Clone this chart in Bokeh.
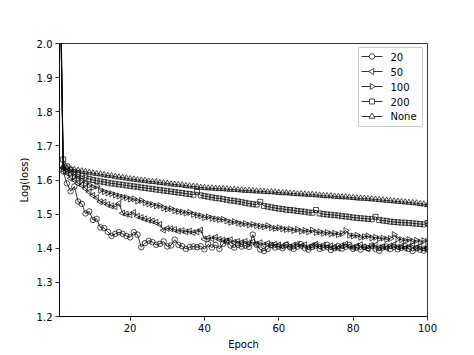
import math
from bokeh.plotting import figure
from bokeh.models import Range1d, FixedTicker, PrintfTickFormatter
from bokeh.core.properties import value
from bokeh.embed import file_html
from bokeh.resources import INLINE

epochs = list(range(1, 101))

loss_20 = [2.31, 1.625, 1.590, 1.567, 1.581, 1.537, 1.530, 1.502, 1.508, 1.483,
           1.486, 1.461, 1.459, 1.448, 1.436, 1.442, 1.447, 1.442, 1.436, 1.432,
           1.447, 1.440, 1.403, 1.415, 1.422, 1.418, 1.410, 1.413, 1.420, 1.405,
           1.408, 1.425, 1.410, 1.406, 1.398, 1.403, 1.405, 1.403, 1.406, 1.397,
           1.412, 1.402, 1.410, 1.398, 1.413, 1.420, 1.408, 1.402, 1.410, 1.405,
           1.408, 1.404, 1.440, 1.410, 1.396, 1.392, 1.398, 1.410, 1.402, 1.405,
           1.400, 1.410, 1.403, 1.398, 1.405, 1.412, 1.400, 1.396, 1.404, 1.408,
           1.398, 1.402, 1.410, 1.395, 1.400, 1.406, 1.399, 1.404, 1.410, 1.398,
           1.402, 1.396, 1.404, 1.400, 1.408, 1.398, 1.393, 1.402, 1.405, 1.398,
           1.404, 1.397, 1.401, 1.406, 1.398, 1.392, 1.400, 1.396, 1.393, 1.398]

loss_50 = [2.28, 1.635, 1.620, 1.605, 1.600, 1.590, 1.585, 1.575, 1.565, 1.555,
           1.548, 1.536, 1.535, 1.528, 1.524, 1.522, 1.531, 1.503, 1.500, 1.498,
           1.505, 1.494, 1.490, 1.486, 1.482, 1.480, 1.476, 1.470, 1.453, 1.458,
           1.457, 1.455, 1.450, 1.452, 1.448, 1.450, 1.446, 1.448, 1.453, 1.427,
           1.430, 1.428, 1.432, 1.426, 1.424, 1.422, 1.425, 1.418, 1.420, 1.417,
           1.420, 1.415, 1.418, 1.412, 1.416, 1.410, 1.414, 1.408, 1.412, 1.410,
           1.406, 1.411, 1.404, 1.409, 1.412, 1.406, 1.410, 1.403, 1.408, 1.412,
           1.405, 1.409, 1.402, 1.407, 1.404, 1.400, 1.408, 1.412, 1.405, 1.402,
           1.407, 1.410, 1.403, 1.398, 1.406, 1.409, 1.402, 1.405, 1.400, 1.407,
           1.410, 1.403, 1.406, 1.400, 1.404, 1.408, 1.401, 1.405, 1.399, 1.403]

loss_100 = [2.35, 1.632, 1.625, 1.620, 1.610, 1.605, 1.598, 1.590, 1.585, 1.578,
            1.582, 1.570, 1.566, 1.562, 1.560, 1.556, 1.553, 1.550, 1.548, 1.544,
            1.545, 1.538, 1.540, 1.533, 1.530, 1.528, 1.524, 1.525, 1.518, 1.515,
            1.516, 1.510, 1.508, 1.506, 1.503, 1.505, 1.499, 1.497, 1.495, 1.490,
            1.492, 1.488, 1.486, 1.484, 1.485, 1.480, 1.476, 1.478, 1.474, 1.471,
            1.472, 1.468, 1.470, 1.466, 1.465, 1.463, 1.466, 1.460, 1.458, 1.460,
            1.457, 1.455, 1.456, 1.452, 1.455, 1.450, 1.452, 1.448, 1.453, 1.446,
            1.448, 1.444, 1.446, 1.442, 1.444, 1.440, 1.443, 1.452, 1.438, 1.436,
            1.438, 1.432, 1.434, 1.436, 1.430, 1.432, 1.428, 1.430, 1.426, 1.428,
            1.440, 1.427, 1.425, 1.422, 1.426, 1.420, 1.423, 1.418, 1.422, 1.420]

loss_200 = [2.27, 1.660, 1.640, 1.630, 1.622, 1.616, 1.611, 1.607, 1.603, 1.600,
            1.598, 1.596, 1.594, 1.592, 1.590, 1.589, 1.587, 1.586, 1.584, 1.583,
            1.581, 1.580, 1.578, 1.577, 1.575, 1.574, 1.572, 1.571, 1.569, 1.568,
            1.566, 1.565, 1.563, 1.562, 1.560, 1.559, 1.557, 1.565, 1.555, 1.553,
            1.551, 1.549, 1.547, 1.546, 1.544, 1.542, 1.540, 1.539, 1.537, 1.535,
            1.533, 1.531, 1.529, 1.528, 1.536, 1.524, 1.522, 1.520, 1.518, 1.516,
            1.515, 1.513, 1.512, 1.511, 1.509, 1.508, 1.507, 1.505, 1.504, 1.512,
            1.502, 1.500, 1.499, 1.498, 1.497, 1.496, 1.494, 1.493, 1.492, 1.490,
            1.489, 1.488, 1.487, 1.486, 1.485, 1.492, 1.483, 1.481, 1.480, 1.478,
            1.477, 1.476, 1.475, 1.475, 1.474, 1.473, 1.472, 1.471, 1.470, 1.474]

loss_none = [2.40, 1.640, 1.635, 1.632, 1.630, 1.628, 1.626, 1.624, 1.622, 1.620,
             1.618, 1.617, 1.615, 1.613, 1.612, 1.610, 1.608, 1.607, 1.605, 1.603,
             1.602, 1.600, 1.599, 1.598, 1.596, 1.595, 1.594, 1.592, 1.591, 1.590,
             1.588, 1.587, 1.586, 1.585, 1.583, 1.582, 1.581, 1.580, 1.578, 1.577,
             1.576, 1.576, 1.575, 1.574, 1.574, 1.573, 1.572, 1.572, 1.571, 1.570,
             1.569, 1.569, 1.568, 1.567, 1.567, 1.566, 1.565, 1.565, 1.564, 1.563,
             1.562, 1.562, 1.561, 1.560, 1.559, 1.559, 1.558, 1.557, 1.557, 1.556,
             1.555, 1.554, 1.553, 1.553, 1.552, 1.551, 1.550, 1.550, 1.549, 1.548,
             1.547, 1.546, 1.546, 1.545, 1.544, 1.543, 1.542, 1.541, 1.540, 1.539,
             1.538, 1.537, 1.536, 1.535, 1.534, 1.533, 1.532, 1.530, 1.529, 1.527]

series_labels = ["20", "50", "100", "200", "None"]
series_values = [loss_20, loss_50, loss_100, loss_200, loss_none]
x_ticks = [20, 40, 60, 80, 100]
y_ticks = [1.2, 1.3, 1.4, 1.5, 1.6, 1.7, 1.8, 1.9, 2.0]

marker_styles = [("circle", 0.0, 5.5),
                 ("triangle", math.pi / 2, 6.0),
                 ("triangle", -math.pi / 2, 6.0),
                 ("square", 0.0, 5.0),
                 ("triangle", 0.0, 6.0)]

FONT = "DejaVu Sans"
W, H = 474, 355
BL, BR, BT, BB = 59, 47, 43, 39
FRAME_W, FRAME_H = W - BL - BR, H - BT - BB
X0, X1, Y0, Y1 = 1, 100, 1.2, 2.0


def sx_to_data(sx):
    return X0 + (sx - BL) / FRAME_W * (X1 - X0)


def sy_to_data(sy):
    return Y1 - (sy - BT) / FRAME_H * (Y1 - Y0)


p = figure(width=W, height=H, output_backend="svg", toolbar_location=None,
           x_range=Range1d(X0, X1), y_range=Range1d(Y0, Y1),
           min_border_left=BL, min_border_right=BR, min_border_top=BT,
           min_border_bottom=BB)

p.background_fill_color = "white"
p.border_fill_color = "white"
p.outline_line_color = "black"
p.outline_line_width = 0.8
p.grid.grid_line_color = None

p.xaxis.ticker = FixedTicker(ticks=x_ticks)
p.yaxis.ticker = FixedTicker(ticks=y_ticks)
p.xaxis.formatter = PrintfTickFormatter(format="%d")
p.yaxis.formatter = PrintfTickFormatter(format="%.1f")
p.xaxis.axis_label = "Epoch"
p.yaxis.axis_label = "Log(loss)"
for ax in [p.xaxis[0], p.yaxis[0]]:
    ax.axis_line_color = "black"
    ax.axis_line_width = 0.8
    ax.major_tick_line_color = "black"
    ax.major_tick_line_width = 0.8
    ax.major_tick_out = 4
    ax.major_tick_in = 0
    ax.minor_tick_line_color = None
    ax.major_label_text_font = FONT
    ax.major_label_text_font_size = "10px"
    ax.major_label_text_color = "black"
    ax.major_label_standoff = 3
    ax.axis_label_text_font = FONT
    ax.axis_label_text_font_size = "10px"
    ax.axis_label_text_font_style = "normal"
    ax.axis_label_text_color = "black"
    ax.axis_label_standoff = 4

# data series
for vals, (mk, ang, sz) in zip(series_values, marker_styles):
    p.line(epochs, vals, line_color="black", line_width=0.8)
    p.scatter(epochs, vals, marker=mk, angle=ang, size=sz,
              fill_color=None, line_color="black", line_width=0.7)

# legend drawn as glyphs (screen layout converted to data units),
# because Bokeh's Legend does not rotate markers
LEG_L, LEG_R, LEG_T, LEG_B = 358, 422, 47, 126
ITEM_Y0, ITEM_DY = 56, 15
LINE_L, LINE_R, LABEL_X = 361, 382, 390

p.quad(left=[sx_to_data(LEG_L)], right=[sx_to_data(LEG_R)],
       top=[sy_to_data(LEG_T)], bottom=[sy_to_data(LEG_B)],
       fill_color="white", fill_alpha=0.85, line_color="#cccccc", line_width=1)

for i, (label, (mk, ang, sz)) in enumerate(zip(series_labels, marker_styles)):
    sy = ITEM_Y0 + i * ITEM_DY
    yd = sy_to_data(sy)
    p.line([sx_to_data(LINE_L), sx_to_data(LINE_R)], [yd, yd],
           line_color="black", line_width=0.8)
    p.scatter([sx_to_data((LINE_L + LINE_R) / 2)], [yd], marker=mk, angle=ang,
              size=sz, fill_color="white", line_color="black", line_width=0.7)

p.text(x=[sx_to_data(LABEL_X)] * len(series_labels),
       y=[sy_to_data(ITEM_Y0 + i * ITEM_DY) for i in range(len(series_labels))],
       text=series_labels, text_font=value(FONT), text_font_size="10px",
       text_color="black", text_baseline="middle", text_align="left")

open("out.html", "w").write(file_html(p, INLINE))
